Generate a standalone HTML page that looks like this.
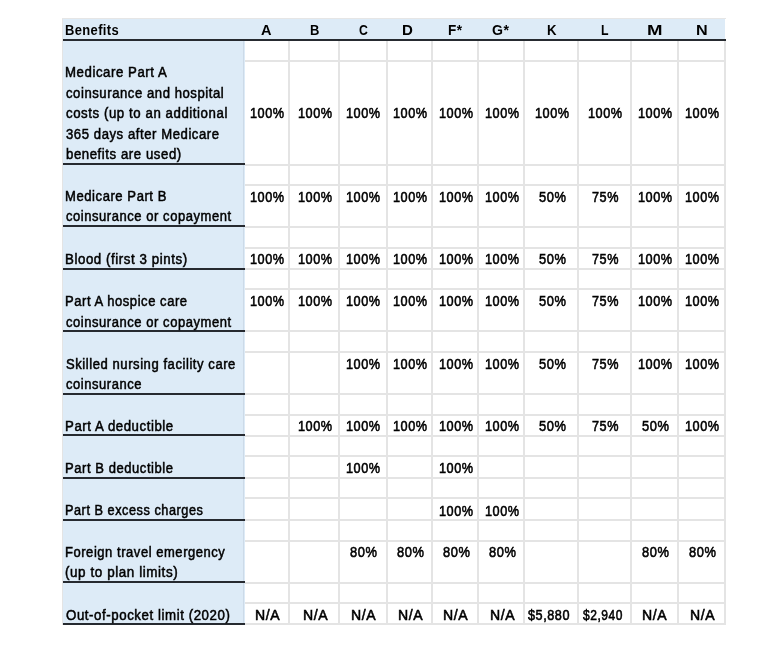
<!DOCTYPE html>
<html><head><meta charset="utf-8"><title>Medigap plan benefits</title><style>
html,body{margin:0;padding:0;background:#fff;}
#p{position:relative;width:780px;height:650px;overflow:hidden;background:#fff;filter:blur(0.75px);font-family:"Liberation Sans",sans-serif;color:#000;}
#p div{position:absolute;}
.t{position:absolute;white-space:pre;letter-spacing:0.6px;-webkit-text-stroke:0.5px #000;font-size:14px;line-height:14px;transform-origin:0 0;}
.b{letter-spacing:0.4px;font-weight:bold;font-size:14px;line-height:14px;-webkit-text-stroke:0;}
.d{-webkit-text-stroke:0.55px #000;}
.g{background:#E4E4E4;}
.k{background:#262a30;}
</style></head><body><div id="p">
<div style="left:62px;top:19px;width:663px;height:21px;background:#DDEBF7"></div>
<div style="left:62px;top:40px;width:183px;height:585px;background:#DDEBF7"></div>
<div class="g" style="left:62px;top:19px;width:1px;height:606px"></div>
<div style="left:62px;top:18px;width:664px;height:1px;background:#E6E6E6"></div>
<div style="left:243px;top:40px;width:1px;height:584px;background:#CCDAE8"></div>
<div class="g" style="left:288px;top:40px;width:2px;height:585px"></div>
<div class="g" style="left:338px;top:40px;width:2px;height:585px"></div>
<div class="g" style="left:386px;top:40px;width:2px;height:585px"></div>
<div class="g" style="left:431px;top:40px;width:2px;height:585px"></div>
<div class="g" style="left:477px;top:40px;width:2px;height:585px"></div>
<div class="g" style="left:523px;top:40px;width:2px;height:585px"></div>
<div class="g" style="left:577px;top:40px;width:2px;height:585px"></div>
<div class="g" style="left:630px;top:40px;width:2px;height:585px"></div>
<div class="g" style="left:677px;top:40px;width:2px;height:585px"></div>
<div class="g" style="left:724px;top:40px;width:2px;height:585px"></div>
<div class="g" style="left:245px;top:60px;width:481px;height:2px"></div>
<div class="g" style="left:245px;top:164px;width:481px;height:2px"></div>
<div class="g" style="left:245px;top:184px;width:481px;height:2px"></div>
<div class="g" style="left:245px;top:226px;width:481px;height:2px"></div>
<div class="g" style="left:245px;top:247px;width:481px;height:2px"></div>
<div class="g" style="left:245px;top:268px;width:481px;height:2px"></div>
<div class="g" style="left:245px;top:288px;width:481px;height:2px"></div>
<div class="g" style="left:245px;top:330px;width:481px;height:2px"></div>
<div class="g" style="left:245px;top:351px;width:481px;height:2px"></div>
<div class="g" style="left:245px;top:393px;width:481px;height:2px"></div>
<div class="g" style="left:245px;top:414px;width:481px;height:2px"></div>
<div class="g" style="left:245px;top:435px;width:481px;height:2px"></div>
<div class="g" style="left:245px;top:455px;width:481px;height:2px"></div>
<div class="g" style="left:245px;top:477px;width:481px;height:2px"></div>
<div class="g" style="left:245px;top:497px;width:481px;height:2px"></div>
<div class="g" style="left:245px;top:519px;width:481px;height:2px"></div>
<div class="g" style="left:245px;top:540px;width:481px;height:2px"></div>
<div class="g" style="left:245px;top:582px;width:481px;height:2px"></div>
<div class="g" style="left:245px;top:602px;width:481px;height:2px"></div>
<div class="g" style="left:245px;top:623px;width:481px;height:2px"></div>
<div class="k" style="left:63px;top:39px;width:663px;height:2px"></div>
<div class="k" style="left:63px;top:163px;width:182px;height:2px"></div>
<div class="k" style="left:63px;top:225px;width:182px;height:2px"></div>
<div class="k" style="left:63px;top:268px;width:182px;height:2px"></div>
<div class="k" style="left:63px;top:330px;width:182px;height:2px"></div>
<div class="k" style="left:63px;top:393px;width:182px;height:2px"></div>
<div class="k" style="left:63px;top:434px;width:182px;height:2px"></div>
<div class="k" style="left:63px;top:477px;width:182px;height:2px"></div>
<div class="k" style="left:63px;top:519px;width:182px;height:2px"></div>
<div class="k" style="left:63px;top:581px;width:182px;height:2px"></div>
<div class="k" style="left:63px;top:623px;width:182px;height:2px"></div>
<span class="t b" style="left:65.11px;top:23px;transform:scaleX(0.9251)">Benefits</span>
<span class="t b" style="left:261.44px;top:23px;transform:scaleX(1.0421)">A</span>
<span class="t b" style="left:310.41px;top:23px;transform:scaleX(0.9257)">B</span>
<span class="t b" style="left:358.96px;top:23px;transform:scaleX(0.8757)">C</span>
<span class="t b" style="left:401.69px;top:23px;transform:scaleX(1.0743)">D</span>
<span class="t b" style="left:447.97px;top:23px;transform:scaleX(0.9673)">F*</span>
<span class="t b" style="left:491.8px;top:23px;transform:scaleX(1.0092)">G*</span>
<span class="t b" style="left:546.99px;top:23px;transform:scaleX(0.9405)">K</span>
<span class="t b" style="left:601.44px;top:23px;transform:scaleX(0.8800)">L</span>
<span class="t b" style="left:647.2px;top:23px;transform:scaleX(1.3300)">M</span>
<span class="t b" style="left:696.04px;top:23px;transform:scaleX(1.1529)">N</span>
<span class="t" style="left:65.31px;top:65px;transform:scaleX(0.9430)">Medicare Part A</span>
<span class="t" style="left:65.78px;top:86px;transform:scaleX(0.9351)">coinsurance and hospital</span>
<span class="t" style="left:65.78px;top:106px;transform:scaleX(0.9453)">costs (up to an additional</span>
<span class="t" style="left:65.78px;top:127px;transform:scaleX(0.9368)">365 days after Medicare</span>
<span class="t" style="left:65.54px;top:147px;transform:scaleX(0.9424)">benefits are used)</span>
<span class="t" style="left:65.32px;top:189px;transform:scaleX(0.9327)">Medicare Part B</span>
<span class="t" style="left:65.79px;top:209px;transform:scaleX(0.9273)">coinsurance or copayment</span>
<span class="t" style="left:65.3px;top:252px;transform:scaleX(0.9488)">Blood (first 3 pints)</span>
<span class="t" style="left:65.32px;top:294px;transform:scaleX(0.9287)">Part A hospice care</span>
<span class="t" style="left:65.79px;top:315px;transform:scaleX(0.9273)">coinsurance or copayment</span>
<span class="t" style="left:65.55px;top:357px;transform:scaleX(0.9319)">Skilled nursing facility care</span>
<span class="t" style="left:65.79px;top:377px;transform:scaleX(0.9267)">coinsurance</span>
<span class="t" style="left:65.31px;top:419px;transform:scaleX(0.9434)">Part A deductible</span>
<span class="t" style="left:65.32px;top:461px;transform:scaleX(0.9290)">Part B deductible</span>
<span class="t" style="left:65.34px;top:503px;transform:scaleX(0.9070)">Part B excess charges</span>
<span class="t" style="left:65.32px;top:545px;transform:scaleX(0.9265)">Foreign travel emergency</span>
<span class="t" style="left:65.13px;top:565px;transform:scaleX(0.9598)">(up to plan limits)</span>
<span class="t" style="left:65.78px;top:608px;transform:scaleX(0.9473)">Out-of-pocket limit (2020)</span>
<span class="t d" style="left:250.44px;top:106px;transform:scaleX(0.9076)">100%</span>
<span class="t d" style="left:298.44px;top:106px;transform:scaleX(0.9076)">100%</span>
<span class="t d" style="left:346.04px;top:106px;transform:scaleX(0.9076)">100%</span>
<span class="t d" style="left:392.94px;top:106px;transform:scaleX(0.9076)">100%</span>
<span class="t d" style="left:438.84px;top:106px;transform:scaleX(0.9076)">100%</span>
<span class="t d" style="left:485.34px;top:106px;transform:scaleX(0.9076)">100%</span>
<span class="t d" style="left:534.74px;top:106px;transform:scaleX(0.9076)">100%</span>
<span class="t d" style="left:588.14px;top:106px;transform:scaleX(0.9076)">100%</span>
<span class="t d" style="left:637.84px;top:106px;transform:scaleX(0.9076)">100%</span>
<span class="t d" style="left:685.24px;top:106px;transform:scaleX(0.9076)">100%</span>
<span class="t d" style="left:250.44px;top:190px;transform:scaleX(0.9076)">100%</span>
<span class="t d" style="left:298.44px;top:190px;transform:scaleX(0.9076)">100%</span>
<span class="t d" style="left:346.04px;top:190px;transform:scaleX(0.9076)">100%</span>
<span class="t d" style="left:392.94px;top:190px;transform:scaleX(0.9076)">100%</span>
<span class="t d" style="left:438.84px;top:190px;transform:scaleX(0.9076)">100%</span>
<span class="t d" style="left:485.34px;top:190px;transform:scaleX(0.9076)">100%</span>
<span class="t d" style="left:538.64px;top:190px;transform:scaleX(0.9204)">50%</span>
<span class="t d" style="left:592.17px;top:190px;transform:scaleX(0.9036)">75%</span>
<span class="t d" style="left:637.84px;top:190px;transform:scaleX(0.9076)">100%</span>
<span class="t d" style="left:685.24px;top:190px;transform:scaleX(0.9076)">100%</span>
<span class="t d" style="left:250.44px;top:252px;transform:scaleX(0.9076)">100%</span>
<span class="t d" style="left:298.44px;top:252px;transform:scaleX(0.9076)">100%</span>
<span class="t d" style="left:346.04px;top:252px;transform:scaleX(0.9076)">100%</span>
<span class="t d" style="left:392.94px;top:252px;transform:scaleX(0.9076)">100%</span>
<span class="t d" style="left:438.84px;top:252px;transform:scaleX(0.9076)">100%</span>
<span class="t d" style="left:485.34px;top:252px;transform:scaleX(0.9076)">100%</span>
<span class="t d" style="left:538.64px;top:252px;transform:scaleX(0.9204)">50%</span>
<span class="t d" style="left:592.17px;top:252px;transform:scaleX(0.9036)">75%</span>
<span class="t d" style="left:637.84px;top:252px;transform:scaleX(0.9076)">100%</span>
<span class="t d" style="left:685.24px;top:252px;transform:scaleX(0.9076)">100%</span>
<span class="t d" style="left:250.44px;top:294px;transform:scaleX(0.9076)">100%</span>
<span class="t d" style="left:298.44px;top:294px;transform:scaleX(0.9076)">100%</span>
<span class="t d" style="left:346.04px;top:294px;transform:scaleX(0.9076)">100%</span>
<span class="t d" style="left:392.94px;top:294px;transform:scaleX(0.9076)">100%</span>
<span class="t d" style="left:438.84px;top:294px;transform:scaleX(0.9076)">100%</span>
<span class="t d" style="left:485.34px;top:294px;transform:scaleX(0.9076)">100%</span>
<span class="t d" style="left:538.64px;top:294px;transform:scaleX(0.9204)">50%</span>
<span class="t d" style="left:592.17px;top:294px;transform:scaleX(0.9036)">75%</span>
<span class="t d" style="left:637.84px;top:294px;transform:scaleX(0.9076)">100%</span>
<span class="t d" style="left:685.24px;top:294px;transform:scaleX(0.9076)">100%</span>
<span class="t d" style="left:346.04px;top:357px;transform:scaleX(0.9076)">100%</span>
<span class="t d" style="left:392.94px;top:357px;transform:scaleX(0.9076)">100%</span>
<span class="t d" style="left:438.84px;top:357px;transform:scaleX(0.9076)">100%</span>
<span class="t d" style="left:485.34px;top:357px;transform:scaleX(0.9076)">100%</span>
<span class="t d" style="left:538.64px;top:357px;transform:scaleX(0.9204)">50%</span>
<span class="t d" style="left:592.17px;top:357px;transform:scaleX(0.9036)">75%</span>
<span class="t d" style="left:637.84px;top:357px;transform:scaleX(0.9076)">100%</span>
<span class="t d" style="left:685.24px;top:357px;transform:scaleX(0.9076)">100%</span>
<span class="t d" style="left:298.44px;top:419px;transform:scaleX(0.9076)">100%</span>
<span class="t d" style="left:346.04px;top:419px;transform:scaleX(0.9076)">100%</span>
<span class="t d" style="left:392.94px;top:419px;transform:scaleX(0.9076)">100%</span>
<span class="t d" style="left:438.84px;top:419px;transform:scaleX(0.9076)">100%</span>
<span class="t d" style="left:485.34px;top:419px;transform:scaleX(0.9076)">100%</span>
<span class="t d" style="left:538.64px;top:419px;transform:scaleX(0.9204)">50%</span>
<span class="t d" style="left:592.17px;top:419px;transform:scaleX(0.9036)">75%</span>
<span class="t d" style="left:641.74px;top:419px;transform:scaleX(0.9204)">50%</span>
<span class="t d" style="left:685.24px;top:419px;transform:scaleX(0.9076)">100%</span>
<span class="t d" style="left:346.04px;top:461px;transform:scaleX(0.9076)">100%</span>
<span class="t d" style="left:438.84px;top:461px;transform:scaleX(0.9076)">100%</span>
<span class="t d" style="left:438.84px;top:504px;transform:scaleX(0.9076)">100%</span>
<span class="t d" style="left:485.34px;top:504px;transform:scaleX(0.9076)">100%</span>
<span class="t d" style="left:349.94px;top:545px;transform:scaleX(0.9204)">80%</span>
<span class="t d" style="left:396.84px;top:545px;transform:scaleX(0.9204)">80%</span>
<span class="t d" style="left:442.74px;top:545px;transform:scaleX(0.9204)">80%</span>
<span class="t d" style="left:489.24px;top:545px;transform:scaleX(0.9204)">80%</span>
<span class="t d" style="left:641.74px;top:545px;transform:scaleX(0.9204)">80%</span>
<span class="t d" style="left:689.14px;top:545px;transform:scaleX(0.9204)">80%</span>
<span class="t d" style="left:255px;top:608px;transform:scaleX(1.0043)">N/A</span>
<span class="t d" style="left:303px;top:608px;transform:scaleX(1.0043)">N/A</span>
<span class="t d" style="left:350.6px;top:608px;transform:scaleX(1.0043)">N/A</span>
<span class="t d" style="left:397.5px;top:608px;transform:scaleX(1.0043)">N/A</span>
<span class="t d" style="left:443.4px;top:608px;transform:scaleX(1.0043)">N/A</span>
<span class="t d" style="left:489.9px;top:608px;transform:scaleX(1.0043)">N/A</span>
<span class="t d" style="left:528.42px;top:608px;transform:scaleX(0.9044)">$5,880</span>
<span class="t d" style="left:582.74px;top:608px;transform:scaleX(0.8578)">$2,940</span>
<span class="t d" style="left:642.4px;top:608px;transform:scaleX(1.0043)">N/A</span>
<span class="t d" style="left:689.8px;top:608px;transform:scaleX(1.0043)">N/A</span>
</div></body></html>
